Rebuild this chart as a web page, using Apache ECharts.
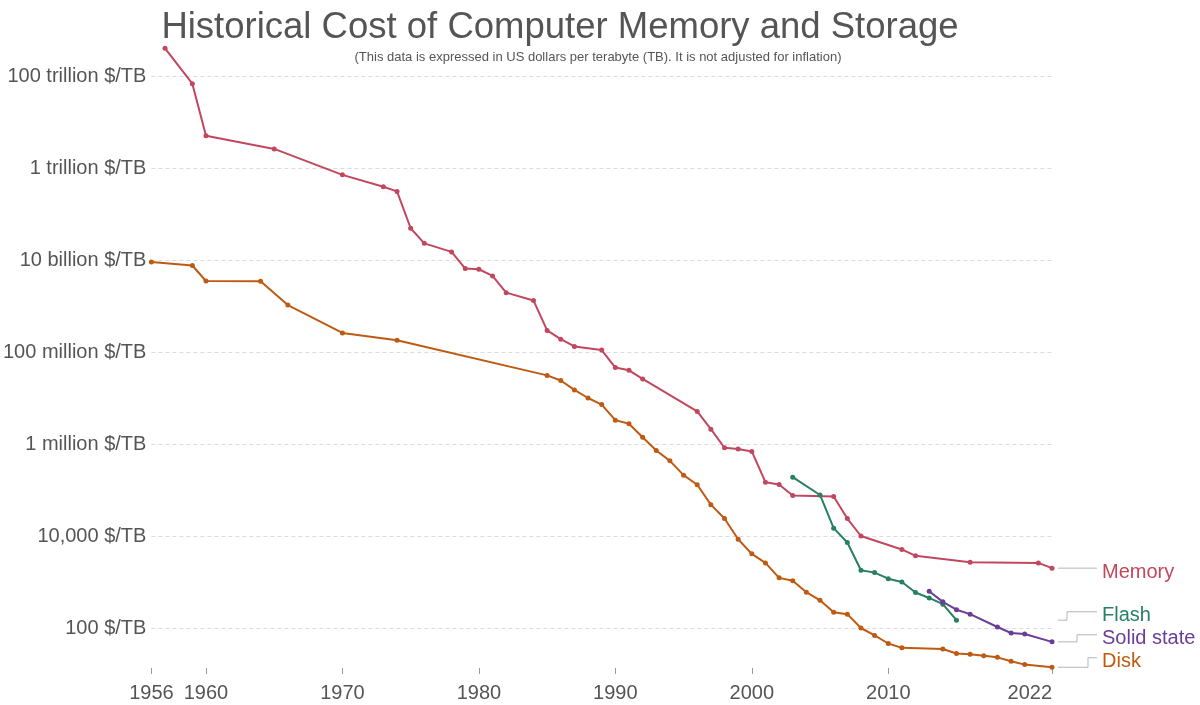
<!DOCTYPE html>
<html>
<head>
<meta charset="utf-8">
<script src="https://cdn.jsdelivr.net/npm/echarts@6/dist/echarts.min.js"></script>
<style>
html,body{margin:0;padding:0;background:#fff;}
#chart{width:1200px;height:705px;}
</style>
</head>
<body>
<div id="chart"></div>
<script>
// ---- data (US$ per terabyte, nominal) ----
const memoryYears = [1957,1959,1960,1965,1970,1973,1974,1975,1976,1978,1979,1980,1981,1982,1984,1985,1986,1987,1989,1990,1991,1992,1996,1997,1998,1999,2000,2001,2002,2003,2006,2007,2008,2011,2012,2016,2021,2022];
const memoryCost = [4.0e14,6.8e13,5.0e12,2.6e12,7.1e11,3.9e11,3.1e11,4.9e10,2.3e10,1.5e10,6.5e9,6.3e9,4.5e9,1.95e9,1.32e9,2.95e8,1.9e8,1.32e8,1.1e8,4.6e7,4.0e7,2.6e7,5.1e6,2.1e6,8.3e5,7.8e5,6.9e5,1.48e5,1.32e5,7.6e4,7.2e4,2.4e4,1.0e4,5.1e3,3.7e3,2.7e3,2.6e3,2.0e3];

const flashYears = [2003,2005,2006,2007,2008,2009,2010,2011,2012,2013,2014,2015];
const flashCost = [1.9e5,7.8e4,1.48e4,7.2e3,1.8e3,1.6e3,1.18e3,1.0e3,590,450,330,148];

const ssdYears = [2013,2014,2015,2016,2018,2019,2020,2022];
const ssdCost = [630,370,250,200,105,78,74,50];

const diskYears = [1956,1959,1960,1964,1966,1970,1974,1985,1986,1987,1988,1989,1990,1991,1992,1993,1994,1995,1996,1997,1998,1999,2000,2001,2002,2003,2004,2005,2006,2007,2008,2009,2010,2011,2014,2015,2016,2017,2018,2019,2020,2022];
const diskCost = [9.1e9,7.6e9,3.5e9,3.45e9,1.05e9,2.6e8,1.8e8,3.1e7,2.4e7,1.5e7,1.0e7,7.2e6,3.3e6,2.75e6,1.4e6,7.2e5,4.3e5,2.1e5,1.3e5,4.8e4,2.4e4,8.5e3,4.1e3,2.6e3,1.23e3,1.07e3,600,400,220,200,100,69,46,37,35,28,27,25,23,19,16,14];

const seriesNames = ['Memory','Flash','Solid state','Disk'];
const xTickYears = [1956,1960,1970,1980,1990,2000,2010,2022];
const yTickValues = [1e2,1e4,1e6,1e8,1e10,1e12,1e14];
const yTickLabels = ['100 $/TB','10,000 $/TB','1 million $/TB','100 million $/TB','10 billion $/TB','1 trillion $/TB','100 trillion $/TB'];

// ---- styling ----
const FONT = "'Liberation Sans', Arial, Helvetica, sans-serif";
const colors = {
  'Memory': '#c2475e',
  'Flash': '#27805f',
  'Solid state': '#6c3d98',
  'Disk': '#bf5a12'
};

function pairs(xs, ys){ return xs.map((x,i)=>[x, ys[i]]); }

function lineSeries(name, xs, ys){
  return {
    name: name,
    type: 'line',
    data: pairs(xs, ys),
    symbol: 'circle',
    symbolSize: 5,
    showSymbol: true,
    lineStyle: {color: colors[name], width: 2},
    itemStyle: {color: colors[name]},
    emphasis: {disabled: true},
    animation: false,
    z: 3
  };
}

const chart = echarts.init(document.getElementById('chart'), null, {renderer: 'canvas'});

const option = {
  backgroundColor: '#fff',
  animation: false,
  title: [
    {
      text: 'Historical Cost of Computer Memory and Storage',
      left: 555, top: 4, textAlign: 'center',
      textStyle: {fontFamily: FONT, fontSize: 36.5, fontWeight: 'normal', color: '#555'}
    },
    {
      text: '(This data is expressed in US dollars per terabyte (TB). It is not adjusted for inflation)',
      left: 593, top: 46, textAlign: 'center',
      textStyle: {fontFamily: FONT, fontSize: 13, fontWeight: 'normal', color: '#555'}
    }
  ],
  grid: {left: 150, right: 148, top: 30, bottom: 31, containLabel: false},
  xAxis: {
    type: 'value',
    min: 1956, max: 2022,
    axisLine: {show: false},
    splitLine: {show: false},
    axisTick: {show: true, inside: true, length: 6, customValues: xTickYears, lineStyle: {color: '#999'}},
    axisLabel: {customValues: xTickYears, margin: 9, fontFamily: FONT, fontSize: 20, color: '#555',
      alignMaxLabel: 'right',
      formatter: v => String(v)}
  },
  yAxis: {
    type: 'log',
    logBase: 100,
    min: 1e1, max: 1e15,
    axisLine: {show: false},
    axisTick: {show: false},
    splitLine: {show: true, showMinLine: false, showMaxLine: false,
      lineStyle: {color: '#dcdcdc', type: [4, 3], width: 1}},
    axisLabel: {
      showMinLabel: false, showMaxLabel: false,
      margin: 5, fontFamily: FONT, fontSize: 20, color: '#555',
      formatter: function(v){
        const e = Math.round(Math.log10(v));
        const i = yTickValues.findIndex(t => Math.round(Math.log10(t)) === e);
        return i >= 0 ? yTickLabels[i] : '';
      }
    }
  },
  series: [
    lineSeries('Memory', memoryYears, memoryCost),
    lineSeries('Disk', diskYears, diskCost),
    lineSeries('Flash', flashYears, flashCost),
    lineSeries('Solid state', ssdYears, ssdCost)
  ]
};

chart.setOption(option);

// ---- end labels with connector lines ----
const lastPoints = {
  'Memory': [memoryYears[memoryYears.length-1], memoryCost[memoryCost.length-1]],
  'Flash': [flashYears[flashYears.length-1], flashCost[flashCost.length-1]],
  'Solid state': [ssdYears[ssdYears.length-1], ssdCost[ssdCost.length-1]],
  'Disk': [diskYears[diskYears.length-1], diskCost[diskCost.length-1]]
};
const rightEdge = chart.convertToPixel({xAxisIndex: 0}, 2022);
const startX = rightEdge + 6;
const endX = rightEdge + 45;
const textX = rightEdge + 50;
const stepOffsets = {'Flash': 15, 'Solid state': 25, 'Disk': 36};

const endY = {};
seriesNames.forEach(n => {
  endY[n] = chart.convertToPixel({yAxisIndex: 0}, lastPoints[n][1]);
});
const labelY = {
  'Memory': endY['Memory'],
  'Disk': endY['Disk'] - 9.5
};
labelY['Solid state'] = labelY['Disk'] - 23;
labelY['Flash'] = labelY['Solid state'] - 23;

const graphics = [];
seriesNames.forEach(n => {
  const y0 = endY[n], y1 = labelY[n];
  let pts;
  if (n === 'Memory') {
    pts = [[startX, y0], [endX, y0]];
  } else {
    const sx = rightEdge + stepOffsets[n];
    pts = [[startX, y0], [sx, y0], [sx, y1], [endX, y1]];
  }
  graphics.push({
    type: 'polyline', silent: true, z: 10,
    shape: {points: pts},
    style: {stroke: '#b5b5b5', lineWidth: 1, fill: null}
  });
  graphics.push({
    type: 'text', silent: true, z: 10,
    x: textX, y: y1 + 4,
    style: {text: n, fill: colors[n], font: '20px ' + FONT, textAlign: 'left', textVerticalAlign: 'middle'}
  });
});
chart.setOption({graphic: graphics});
</script>
</body>
</html>
